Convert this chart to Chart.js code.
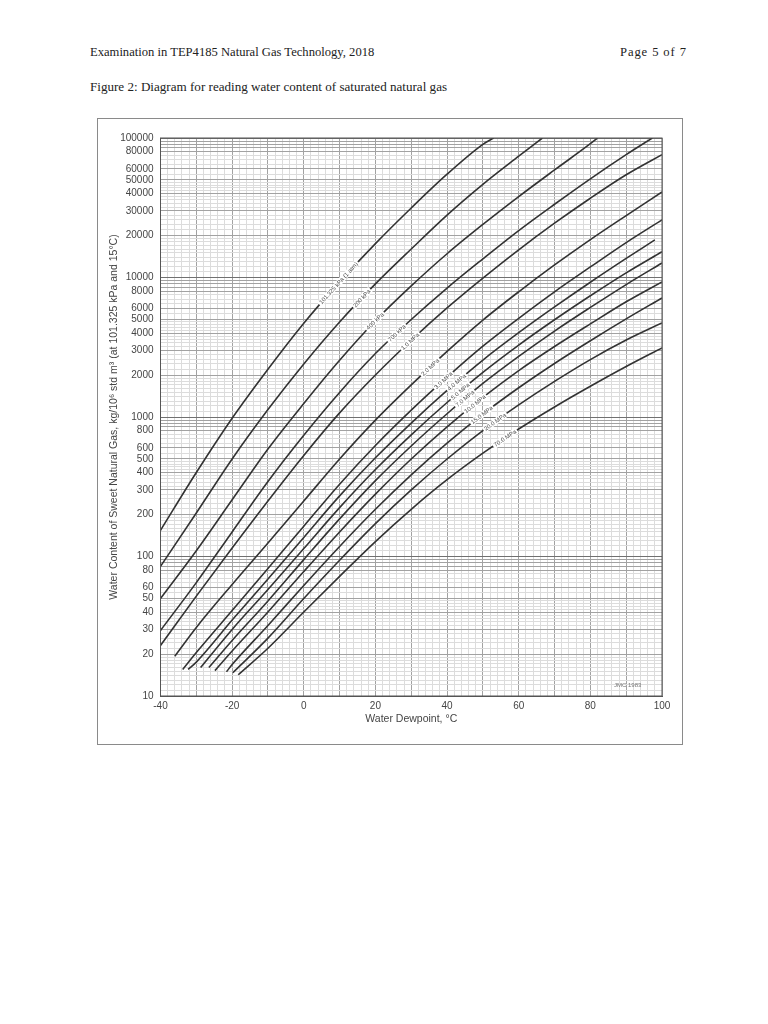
<!DOCTYPE html>
<html>
<head>
<meta charset="utf-8">
<script src="https://cdn.jsdelivr.net/npm/chart.js@4.4.1/dist/chart.umd.min.js"></script>
<style>
  body { margin: 0; background: #fff; width: 768px; height: 1024px; position: relative; overflow: hidden; }
  .serif { position: absolute; font-family: "Liberation Serif", "Times New Roman", serif; color: #222; white-space: nowrap; }
  #box { position: absolute; left: 97px; top: 118px; width: 586px; height: 627px; border: 1px solid #8a8a8a; box-sizing: border-box; }
  #box canvas { position: absolute; left: 0; top: 0; }
  .stamp { position: absolute; font: 6px "Liberation Sans", Arial, sans-serif; color: #777; }
</style>
</head>
<body>
<div class="serif" style="left:90px;top:45px;font-size:12.6px;">Examination in TEP4185 Natural Gas Technology, 2018</div>
<div class="serif" style="left:620px;top:45px;font-size:12.6px;letter-spacing:0.9px;">Page 5 of 7</div>
<div class="serif" style="left:90px;top:79px;font-size:13.1px;">Figure 2: Diagram for reading water content of saturated natural gas</div>
<div id="box"><canvas id="chart" width="584" height="625"></canvas></div>
<div class="stamp" style="left:614px;top:682px;">JMC 1983</div>
<script>
// ===== TICK LABELS =====
const X_LABELS = [-40, -20, 0, 20, 40, 60, 80, 100];
const Y_LABELS = [10, 20, 30, 40, 50, 60, 80, 100, 200, 300, 400, 500, 600, 800,
  1000, 2000, 3000, 4000, 5000, 6000, 8000, 10000, 20000, 30000, 40000, 50000, 60000, 80000, 100000];
// fine log-paper rulings inside each decade
const FINE_MANTISSAS = [1, 1.1, 1.2, 1.3, 1.4, 1.5, 1.6, 1.7, 1.8, 1.9, 2, 2.2, 2.4, 2.6, 2.8,
  3, 3.2, 3.4, 3.6, 3.8, 4, 4.2, 4.4, 4.6, 4.8, 5, 5.5, 6, 6.5, 7, 7.5, 8, 8.5, 9, 9.5];

// ===== CURVES: dewpoint (°C) / water content (kg per 10^6 std m3) =====
const NAMES = ['101.325 kPa (1 atm)', '200 kPa', '400 kPa', '700 kPa', '1.0 MPa', '2.0 MPa', '3.0 MPa',
  '4.0 MPa', '5.0 MPa', '7.0 MPa', '10.0 MPa', '15.0 MPa', '20.0 MPa', '70.0 MPa'];

const T_101K = [-40, -30, -20, -10, 0, 10, 20, 30, 40, 50, 53];
const W_101K = [154, 400, 980, 2200, 4700, 9300, 17500, 31500, 55000, 90000, 100000];

const T_200K = [-40, -30, -20, -10, 0, 10, 20, 30, 40, 50, 60, 66.6];
const W_200K = [85, 205, 500, 1130, 2400, 4800, 9000, 16000, 28000, 46500, 74000, 100000];

const T_400K = [-40, -30, -20, -10, 0, 10, 20, 30, 40, 50, 60, 70, 80, 82];
const W_400K = [50, 110, 255, 590, 1250, 2550, 4900, 8700, 14800, 24000, 38000, 59000, 91000, 100000];

const T_700K = [-40, -30, -20, -10, 0, 10, 20, 30, 40, 50, 60, 70, 80, 90, 97.3];
const W_700K = [29.5, 65, 150, 345, 740, 1500, 2850, 5000, 8400, 13600, 21700, 33500, 51000, 76000, 100000];

const T_1M = [-40, -30, -20, -10, 0, 10, 20, 30, 40, 50, 60, 70, 80, 90, 100];
const W_1M = [23, 52, 115, 250, 530, 1070, 2000, 3550, 6050, 9900, 15800, 24500, 37000, 54500, 76000];

const T_2M = [-36, -30, -20, -10, 0, 10, 20, 30, 40, 50, 60, 70, 80, 90, 100];
const W_2M = [19.3, 31, 63, 125, 250, 500, 950, 1700, 2950, 4950, 7900, 12300, 18700, 27800, 41000];

const T_3M = [-33.8, -30, -20, -10, 0, 10, 20, 30, 40, 50, 60, 70, 80, 90, 100];
const W_3M = [15.5, 20.5, 41, 82, 165, 330, 625, 1120, 1930, 3220, 5100, 7900, 11900, 17800, 25900];

const T_4M = [-32.3, -30, -20, -10, 0, 10, 20, 30, 40, 50, 60, 70, 80, 90, 98];
const W_4M = [15.5, 17.5, 35, 69, 137, 272, 510, 905, 1550, 2560, 4020, 6150, 9250, 13700, 18600];

const T_5M = [-28.8, -20, -10, 0, 10, 20, 30, 40, 50, 60, 70, 80, 90, 100];
const W_5M = [16, 30, 58, 114, 224, 420, 745, 1270, 2090, 3280, 4980, 7400, 10800, 15300];

const T_7M = [-26.5, -20, -10, 0, 10, 20, 30, 40, 50, 60, 70, 80, 90, 100];
const W_7M = [16, 25, 48, 95, 186, 350, 620, 1055, 1740, 2720, 4130, 6100, 8900, 12700];

const T_10M = [-24.8, -20, -10, 0, 10, 20, 30, 40, 50, 60, 70, 80, 90, 100];
const W_10M = [15.2, 21, 40, 78, 150, 280, 500, 850, 1380, 2150, 3200, 4650, 6700, 9300];

const T_15M = [-21.6, -20, -10, 0, 10, 20, 30, 40, 50, 60, 70, 80, 90, 100];
const W_15M = [14.9, 16.8, 32, 62, 118, 218, 385, 650, 1050, 1620, 2420, 3520, 5050, 7130];

const T_20M = [-19.8, -10, 0, 10, 20, 30, 40, 50, 60, 70, 80, 90, 100];
const W_20M = [14.7, 26, 50, 94, 172, 300, 500, 800, 1220, 1800, 2580, 3560, 4720];

const T_70M = [-18.3, -10, 0, 10, 20, 30, 40, 50, 60, 70, 80, 90, 100];
const W_70M = [14.2, 22, 40, 72, 128, 218, 355, 550, 820, 1180, 1660, 2300, 3130];

// dewpoint at which each curve carries its in-line label
const LABEL_AT = [9.7, 16.2, 19.9, 26, 29.7, 35.3, 39, 42.7, 43.7, 45, 47.8, 49.7, 53.4, 56.2];

const SERIES = [
  [T_101K, W_101K], [T_200K, W_200K], [T_400K, W_400K], [T_700K, W_700K], [T_1M, W_1M],
  [T_2M, W_2M], [T_3M, W_3M], [T_4M, W_4M], [T_5M, W_5M], [T_7M, W_7M],
  [T_10M, W_10M], [T_15M, W_15M], [T_20M, W_20M], [T_70M, W_70M],
];

// ===== GRID VALUES =====
const Y_GRID = [];
[10, 100, 1000, 10000].forEach(d => FINE_MANTISSAS.forEach(m => Y_GRID.push(Math.round(m * 10) * d / 10)));
Y_GRID.push(100000);

const FONT = '"Liberation Sans", Arial, sans-serif';
const TEXT = '#454545';
const LINE = '#333';

function mantissa(v) {
  return v / Math.pow(10, Math.floor(Math.log10(v) + 1e-9));
}

// log-space lookup along a curve
function valueAt(points, t) {
  for (let i = 0; i < points.length - 1; i++) {
    const a = points[i], b = points[i + 1];
    if (t >= a.x && t <= b.x) {
      const f = (t - a.x) / (b.x - a.x);
      return Math.pow(10, Math.log10(a.y) + f * (Math.log10(b.y) - Math.log10(a.y)));
    }
  }
  return null;
}

// ===== IN-LINE CURVE LABELS + TOP/RIGHT FRAME =====
const curveLabels = {
  id: 'curveLabels',
  afterDatasetsDraw(chart) {
    const { ctx, chartArea: area, scales: { x, y } } = chart;
    ctx.save();
    ctx.strokeStyle = '#555';
    ctx.lineWidth = 1;
    ctx.strokeRect(area.left, area.top, area.right - area.left, area.bottom - area.top);
    ctx.font = '6px ' + FONT;
    ctx.textAlign = 'center';
    ctx.textBaseline = 'middle';
    chart.data.datasets.forEach((ds, i) => {
      const t = LABEL_AT[i];
      const w = valueAt(ds.data, t);
      const w2 = valueAt(ds.data, t + 1);
      if (!w || !w2) return;
      const px = x.getPixelForValue(t), py = y.getPixelForValue(w);
      const ang = Math.atan2(y.getPixelForValue(w2) - py, x.getPixelForValue(t + 1) - px);
      const tw = ctx.measureText(ds.label).width;
      ctx.save();
      ctx.translate(px, py);
      ctx.rotate(ang);
      ctx.fillStyle = '#fff';
      ctx.fillRect(-tw / 2 - 1.5, -3.2, tw + 3, 6.4);
      ctx.fillStyle = '#4a4a4a';
      ctx.fillText(ds.label, 0, 0.3);
      ctx.restore();
    });
    ctx.restore();
  },
};

new Chart(document.getElementById('chart'), {
  type: 'line',
  data: {
    datasets: SERIES.map(([t, w], i) => ({
      label: NAMES[i],
      data: t.map((v, k) => ({ x: v, y: w[k] })),
      borderColor: LINE,
      borderWidth: 1.6,
      pointRadius: 0,
      cubicInterpolationMode: 'monotone',
      fill: false,
    })),
  },
  options: {
    responsive: false,
    animation: false,
    layout: { padding: { top: 19, right: 20, left: 0, bottom: 0 } },
    plugins: { legend: { display: false }, tooltip: { enabled: false } },
    scales: {
      x: {
        type: 'linear',
        min: -40,
        max: 100,
        afterFit: (axis) => { axis.height = 48; },
        grid: {
          drawTicks: false,
          color: (c) => (c.tick && c.tick.value % 10 === 0 ? '#a2a2a2' : '#dcdcdc'),
        },
        border: { color: '#555' },
        ticks: {
          stepSize: 2,
          autoSkip: false,
          maxRotation: 0,
          padding: 4,
          color: TEXT,
          font: { family: FONT, size: 10 },
          callback: (v) => (X_LABELS.includes(v) ? String(v) : ''),
        },
        title: {
          display: true,
          text: 'Water Dewpoint, °C',
          color: TEXT,
          font: { family: FONT, size: 10.5 },
          padding: { top: 2, bottom: 19 },
        },
      },
      y: {
        type: 'logarithmic',
        min: 10,
        max: 100000,
        afterFit: (axis) => { axis.width = 62.5; },
        afterBuildTicks: (axis) => { axis.ticks = Y_GRID.map(v => ({ value: v })); },
        grid: {
          drawTicks: false,
          color: (c) => {
            if (!c.tick) return '#dcdcdc';
            const m = mantissa(c.tick.value);
            if (Math.abs(m - 1) < 1e-6) return '#707070';
            if (Y_LABELS.includes(c.tick.value) || m >= 8) return '#a2a2a2';
            return '#dcdcdc';
          },
        },
        border: { color: '#555' },
        ticks: {
          autoSkip: false,
          padding: 7,
          color: TEXT,
          font: { family: FONT, size: 10 },
          callback: (v) => (Y_LABELS.includes(v) ? String(v) : ''),
        },
        title: {
          display: true,
          text: 'Water Content of Sweet Natural Gas, kg/10⁶ std m³ (at 101.325 kPa and 15°C)',
          color: TEXT,
          font: { family: FONT, size: 10.5 },
          padding: { top: 10, bottom: 0 },
        },
      },
    },
  },
  plugins: [curveLabels],
});
</script>
</body>
</html>
